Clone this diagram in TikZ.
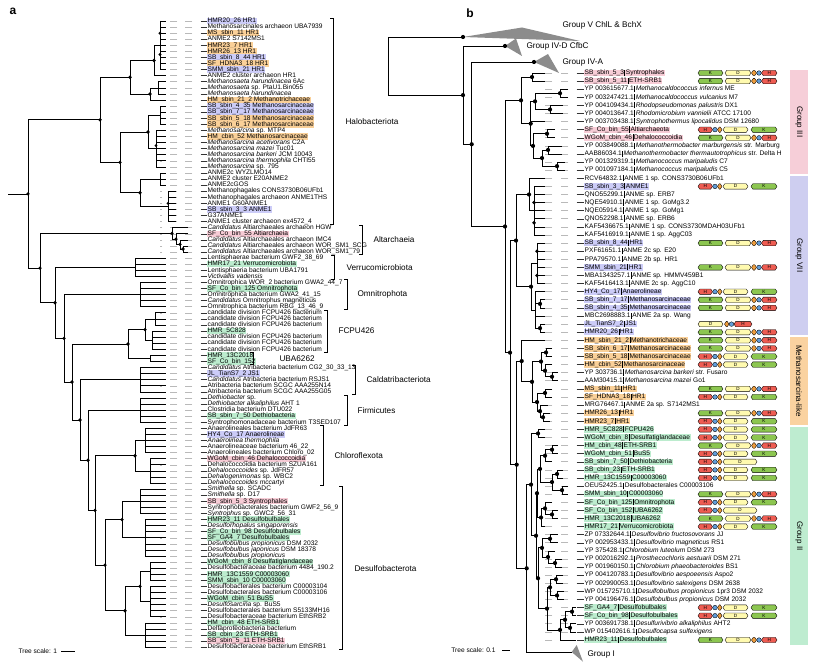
\documentclass[tikz,border=0pt]{standalone}
\usepackage{fontspec}
\setmainfont{Liberation Sans}
\definecolor{hb}{RGB}{204,204,248}
\definecolor{ho}{RGB}{250,208,152}
\definecolor{hp}{RGB}{247,204,214}
\definecolor{hg}{RGB}{188,236,206}
\definecolor{gK}{RGB}{140,198,80}
\definecolor{gD}{RGB}{255,250,175}
\definecolor{gO}{RGB}{238,156,60}
\definecolor{gB}{RGB}{98,158,218}
\definecolor{gH}{RGB}{238,92,82}
\definecolor{dashg}{RGB}{185,185,185}
\definecolor{trig}{RGB}{140,140,140}
\definecolor{barIII}{RGB}{246,206,216}
\definecolor{barVII}{RGB}{206,206,240}
\definecolor{barMS}{RGB}{250,210,160}
\definecolor{barII}{RGB}{190,236,208}
\newcommand\YA[1]{21+#1*6.08-6.08}
\newcommand\YB[1]{73+#1*8.1-8.1}
\newcommand\YAm[2]{21+#1*3.04+#2*3.04-6.08}
\newcommand\YBm[2]{73+#1*4.05+#2*4.05-8.1}
\newcommand\vsep{\kern0.5pt\rule[-1.3pt]{0.9pt}{6.4pt}\kern0.5pt}
\tikzset{
 tr/.style={line width=0.75pt, black},
 leadA/.style={dashg, line width=0.6pt, dash pattern=on 7pt off 8pt},
 leadB/.style={dashg, line width=0.7pt, dash pattern=on 7pt off 9pt},
 lab/.style={anchor=west, inner xsep=0.5pt, inner ysep=0pt, text height=4.9pt, text depth=1.4pt, font=\fontsize{6.6}{7}\selectfont},
 grp/.style={anchor=west, font=\fontsize{8.2}{9}\selectfont},
 glab/.style={font=\fontsize{4.6}{5}\selectfont, inner sep=0pt},
 gline/.style={draw=black, line width=0.35pt},
}
\newcommand\nA[5]{\draw[tr] (#3,\YA{#2}) -| (#1,\YA{#4}) -- (#5,\YA{#4}); \fill (#1,\YAm{#2}{#4}) circle (1.8pt);}
\newcommand\pA[4]{\draw[tr] (#1,\YA{#2}) -- (#1,\YA{#3}); \foreach \k in {#2,...,#3}{\draw[tr] (#1,\YA{\k}) -- (#4,\YA{\k});}}
\newcommand\nB[5]{\draw[tr] (#3,\YB{#2}) -| (#1,\YB{#4}) -- (#5,\YB{#4}); \fill (#1,\YBm{#2}{#4}) circle (2.1pt);}
\newcommand\pB[4]{\draw[tr] (#1,\YB{#2}) -- (#1,\YB{#3}); \foreach \k in {#2,...,#3}{\draw[tr] (#1,\YB{\k}) -- (#4,\YB{\k});}}
\newcommand\gene[5]{\path[gline, fill=#4] (#1,#3) -- ({#1+1.8},{#3-2.7}) -- ({#2-1.8},{#3-2.7}) -- (#2,#3) -- ({#2-1.8},{#3+2.7}) -- ({#1+1.8},{#3+2.7}) -- cycle;
 \node[glab] at ({(#1+#2)/2},#3) {#5};}
\newcommand\gbl[2]{\path[gline, fill=gB] (#1,#2) circle (2.3pt);}
\newcommand\gA[1]{\gene{698}{723}{#1}{gK}{K}\gene{725}{751}{#1}{gD}{D}\gene{751.5}{756.5}{#1}{gO}{}\gbl{759}{#1}\gene{761.5}{777}{#1}{gH}{H}}
\newcommand\gB[1]{\gene{698}{712.5}{#1}{gH}{H}\gbl{715}{#1}\gene{717.5}{722}{#1}{gO}{}\gene{723}{748}{#1}{gD}{D}\gene{751}{777}{#1}{gK}{K}}
\newcommand\gC[1]{\gene{698}{723}{#1}{gD}{D}\gene{724.5}{729}{#1}{gO}{}\gbl{731.5}{#1}\gene{734}{752}{#1}{gH}{H}}
\newcommand\gDD[1]{\gene{698}{712.5}{#1}{gH}{H}\gbl{715}{#1}\gene{717.5}{722}{#1}{gO}{}\gene{723}{757}{#1}{gD}{D}}
\catcode`\_=12
\begin{document}
\begin{tikzpicture}[x=1pt,y=-1pt]
\useasboundingbox (0,0) rectangle (818,666);
\fill[white] (0,0) rectangle (818,666);
\node[font=\bfseries\fontsize{12}{12}\selectfont] (pa) at (13,11) {a};
\node[font=\bfseries\fontsize{12}{12}\selectfont] (pb) at (470,13) {b};

% ================= PANEL A =================
\foreach \i in {1,...,104}{
 \draw[leadA] (192,\YA{\i}) -- (160,\YA{\i});
 \draw[line width=0.6pt, black!80] (200.5,\YA{\i}) -- (207,\YA{\i});
}
\foreach \i/\t/\c in {
1/HMR20_26 HR1/hb,
2/Methanosarcinales archaeon UBA7939/none,
3/MS_sbin_11 HR1/ho,
4/ANME2 S7142MS1/none,
5/HMR23_7 HR1/ho,
6/HMR26_13 HR1/ho,
7/SB_sbin_8_44 HR1/hb,
8/SF_HDNA3_18 HR1/ho,
9/SMM_sbin_21 HR1/hb,
10/ANME2 cluster archaeon HR1/none,
11/\textit{Methanosaeta harundinacea} 6Ac/none,
12/\textit{Methanosaeta} sp. PtaU1.Bin055/none,
13/\textit{Methanosaeta harundinacea}/none,
14/HM_sbin_21_2 Methanotrichaceae/ho,
15/SB_sbin_4_35 Methanosarcinaceae/hb,
16/SB_sbin_7_17 Methanosarcinaceae/hb,
17/SB_sbin_5_18 Methanosarcinaceae/ho,
18/SB_sbin_6_17 Methanosarcinaceae/ho,
19/\textit{Methanosarcina} sp. MTP4/none,
20/HM_cbin_52 Methanosarcinaceae/ho,
21/\textit{Methanosarcina acetivorans} C2A/none,
22/\textit{Methanosarcina mazei} Tuc01/none,
23/\textit{Methanosarcina barkeri} JCM 10043/none,
24/\textit{Methanosarcina thermophila} CHTI55/none,
25/\textit{Methanosarcina} sp. 795/none,
26/ANME2c WYZLMO14/none,
27/ANME2 cluster E20ANME2/none,
28/ANME2cGOS/none,
29/Methanophagales CONS3730B06UFb1/none,
30/Methanophagales archaeon ANME1THS/none,
31/ANME1 G60ANME1/none,
32/SB_sbin_3_3 ANME1/hb,
33/G37ANME1/none,
34/ANME1 cluster archaeon ex4572_4/none,
35/\textit{Candidatus} Altiarchaeales archaeon HGW/none,
36/SF_Co_bin_55 Altiarchaeia/hp,
37/\textit{Candidatus} Altiarchaeales archaeon IMC4/none,
38/\textit{Candidatus} Altiarchaeales archaeon WOR_SM1_SCG/none,
39/\textit{Candidatus} Altiarchaeales archaeon WOR_SM1_79/none,
40/Lentisphaerae bacterium GWF2_38_69/none,
41/HMR17_21 Verrucomicrobiota/hg,
42/Lentisphaeria bacterium UBA1791/none,
43/\textit{Victivallis vadensis}/none,
44/Omnitrophica WOR_2 bacterium GWA2_44_7/none,
45/SF_Co_bin_125 Omnitrophota/hg,
46/Omnitrophica bacterium GWA2_41_15/none,
47/\textit{Candidatus} Omnitrophus magneticus/none,
48/Omnitrophica bacterium RBG_13_46_9/none,
49/candidate division FCPU426 bacterium/none,
50/candidate division FCPU426 bacterium/none,
51/candidate division FCPU426 bacterium/none,
52/HMR_5C828/hg,
53/candidate division FCPU426 bacterium/none,
54/candidate division FCPU426 bacterium/none,
55/candidate division FCPU426 bacterium/none,
56/HMR_13C2018/hg,
57/SF_Co_bin_152/hg,
58/\textit{Candidatus} Atribacteria bacterium CG2_30_33_13/none,
59/JL_TianS7_2 JS1/hb,
60/\textit{Candidatus} Atribacteria bacterium RSJS1/none,
61/Atribacteria bacterium SCGC AAA255N14/none,
62/Atribacteria bacterium SCGC AAA255G05/none,
63/\textit{Dethiobacter} sp./none,
64/\textit{Dethiobacter alkaliphilus} AHT 1/none,
65/Clostridia bacterium DTU022/none,
66/SB_sbin_7_50 Dethiobacteria/hg,
67/Syntrophomonadaceae bacterium T3SED107/none,
68/Anaerolineales bacterium JdFR63/none,
69/HY4_Co_17 Anaerolineae/hb,
70/\textit{Anaerolinea thermophila}/none,
71/Anaerolineaceae bacterium 46_22/none,
72/Anaerolineales bacterium Chloro_02/none,
73/WGoM_cbin_46 Dehalococcoidia/hp,
74/Dehalococcoidia bacterium SZUA161/none,
75/\textit{Dehalococcoides} sp. JdFR57/none,
76/\textit{Dehalogenimonas} sp. WBC2/none,
77/\textit{Dehalococcoides mccartyi}/none,
78/\textit{Smithella} sp. SCADC/none,
79/\textit{Smithella} sp. D17/none,
80/SB_sbin_5_3 Syntrophales/hp,
81/Syntrophobacterales bacterium GWF2_56_9/none,
82/\textit{Syntrophus} sp. GWC2_56_31/none,
83/HMR23_11 Desulfobulbales/hg,
84/\textit{Desulforhopalus singaporensis}/none,
85/SF_Co_bin_98 Desulfobulbales/hg,
86/SF_GA4_7 Desulfobulbales/hg,
87/\textit{Desulfobulbus propionicus} DSM 2032/none,
88/\textit{Desulfobulbus japonicus} DSM 18378/none,
89/\textit{Desulfobulbus propionicus}/none,
90/WGoM_cbin_8 Desulfatiglandaceae/hg,
91/Desulfobacteraceae bacterium 4484_190.2/none,
92/HMR_13C1559 C00003060/hg,
93/SMM_sbin_10 C00003060/hg,
94/Desulfobacterales bacterium C00003104/none,
95/Desulfobacterales bacterium C00003106/none,
96/WGoM_cbin_51 BuS5/hg,
97/\textit{Desulfosarcina} sp. BuS5/none,
98/Desulfobacterales bacterium S5133MH16/none,
99/Desulfobacteraceae bacterium EthSRB2/none,
100/HM_cbin_48 ETH-SRB1/hg,
101/Deltaproteobacteria bacterium/none,
102/SB_cbin_23 ETH-SRB1/hg,
103/SB_sbin_5_11 ETH-SRB1/hp,
104/Desulfobacteraceae bacterium EthSRB1/none}{
 \node[lab, fill=\c] (a\i) at (207,\YA{\i}) {\t};
}
% tree a : Halobacteriota
\pA{160}{1}{9}{166}
\fill (160,\YA{3}) circle (1.6pt); \fill (160,\YA{6.5}) circle (1.6pt);
\nA{154}{5}{160}{10}{166}
\pA{158}{11}{13}{166}
\nA{150}{12}{158}{14}{166}
\nA{130}{7.5}{154}{13}{150}
\pA{160}{15}{18}{166}
\pA{156}{19}{25}{166}
\fill (156,\YA{21.5}) circle (1.6pt);
\nA{148}{16.5}{160}{22}{156}
\pA{160}{26}{28}{166}
\pA{168}{29}{34}{176}
\fill (168,\YA{31}) circle (1.6pt);
\nA{140}{27}{160}{31.5}{168}
\nA{120}{19.25}{148}{29.25}{140}
\nA{100}{10.25}{130}{24.25}{120}
% Altarchaeia
\nA{183}{38}{188}{39}{188}
\nA{180}{37}{188}{38.5}{183}
\nA{176}{36}{188}{37.75}{180}
\nA{172}{35}{188}{36.875}{176}
% bacteria groups
\pA{135}{40}{43}{166}
\pA{140}{44}{48}{166}
\pA{155}{49}{51}{166}
\pA{152}{52}{55}{166}
\nA{145}{50}{155}{53.5}{152}
\pA{150}{56}{57}{166}
\nA{128}{51.75}{145}{56.5}{150}
\pA{140}{58}{62}{166}
\pA{140}{63}{67}{166}
\pA{145}{68}{72}{166}
\pA{150}{73}{77}{166}
\nA{135}{70}{145}{75}{150}
\pA{140}{78}{82}{166}
\pA{145}{83}{89}{166}
\nA{122}{80}{140}{86}{145}
\pA{150}{90}{93}{166}
\pA{150}{94}{99}{166}
\nA{140}{91.5}{150}{96.5}{150}
\pA{145}{100}{104}{166}
\nA{125}{94}{140}{102}{145}
\nA{105}{83}{122}{98}{125}
% staircase
\nA{95}{72.5}{135}{90.5}{105}
\nA{88}{65}{140}{81.5}{95}
\nA{80}{60}{140}{73.25}{88}
\nA{72}{54.125}{128}{66.625}{80}
\nA{64}{46}{140}{60.375}{72}
\nA{55}{41.5}{135}{53.1875}{64}
\nA{40}{35.9375}{172}{47.34375}{55}
\nA{28}{17.25}{100}{41.640625}{40}
\draw[tr] (8,\YA{29.4453125}) -- (28,\YA{29.4453125});
% brackets a
\foreach \x/\p/\q/\n/\lx/\t in {
333/1/34/gHalo/342/Halobacteriota,
362/35/39/gAlt/370/Altarchaeia,
334/40/43/gVer/343/Verrucomicrobiota,
347/44/48/gOmn/354/Omnitrophota,
327/49/55/gFCP/335/FCPU426,
355/58/62/gCal/363/Caldatribacteriota,
347/63/67/gFir/354/Firmicutes,
323/68/77/gChl/331/Chloroflexota,
342/78/104/gDes/351/Desulfobacterota}{
 \draw[line width=0.7pt] ({\x-3},{\YA{\p}-2.6}) -- (\x,{\YA{\p}-2.6}) -- (\x,{\YA{\q}+2.6}) -- ({\x-3},{\YA{\q}+2.6});
 \node[grp] (\n) at (\lx,\YAm{\p}{\q}) {\t};
}
\draw[line width=0.7pt] (250,{\YA{56}-2.6}) -- (253,{\YA{56}-2.6}) -- (253,{\YA{57}+2.6}) -- (250,{\YA{57}+2.6});
\node[grp] (gUBA) at (276,\YAm{56}{57}) {UBA6262};
\node[anchor=west, font=\fontsize{6.6}{7}\selectfont] (tsa) at (15,651) {Tree scale: 1};
\draw[line width=0.7pt] (61,651) -- (75,651);

% ================= PANEL B =================
\foreach \i in {1,...,71}{
 \draw[leadB] (568,\YB{\i}) -- (545,\YB{\i});
 \draw[line width=0.6pt, black!80] (576.5,\YB{\i}) -- (583.5,\YB{\i});
}
\foreach \i/\t/\c in {
1/SB_sbin_5_3\vsep Syntrophales/hp,
2/SB_sbin_5_11\vsep ETH-SRB1/hp,
3/YP 003615677.1\vsep\textit{Methanocaldococcus infernus} ME/none,
4/YP 003247421.1\vsep\textit{Methanocaldococcus vulcanius} M7/none,
5/YP 004109434.1\vsep\textit{Rhodopseudomonas palustris} DX1/none,
6/YP 004013647.1\vsep\textit{Rhodomicrobium vannielii} ATCC 17100/none,
7/YP 003703438.1\vsep\textit{Syntrophothermus lipocalidus} DSM 12680/none,
8/SF_Co_bin_55\vsep Altiarchaeota/hp,
9/WGoM_cbin_46\vsep Dehalococcoidia/hp,
10/YP 003849088.1\vsep\textit{Methanothermobacter marburgensis} str. Marburg/none,
11/AAB86034.1\vsep\textit{Methanothermobacter thermautotrophicus} str. Delta H/none,
12/YP 001329319.1\vsep\textit{Methanococcus maripaludis} C7/none,
13/YP 001097184.1\vsep\textit{Methanococcus maripaludis} C5/none,
14/RCV64832.1\vsep ANME 1 sp. CONS3730B06UFb1/none,
15/SB_sbin_3_3\vsep ANME1/hb,
16/QNO55299.1\vsep ANME sp. ERB7/none,
17/NQE54910.1\vsep ANME 1 sp. GoMg3.2/none,
18/NQE05914.1\vsep ANME 1 sp. GoMg1/none,
19/QNO52298.1\vsep ANME sp. ERB6/none,
20/KAF5436675.1\vsep ANME 1 sp. CONS3730MDAH03UFb1/none,
21/KAF5416919.1\vsep ANME 1 sp. AggC03/none,
22/SB_sbin_8_44\vsep HR1/hb,
23/PXF61651.1\vsep ANME 2c sp. E20/none,
24/PPA79570.1\vsep ANME 2b sp. HR1/none,
25/SMM_sbin_21\vsep HR1/hb,
26/MBA1343257.1\vsep ANME sp. HMMV459B1/none,
27/KAF5416413.1\vsep ANME 2c sp. AggC10/none,
28/HY4_Co_17\vsep Anaerolineae/hb,
29/SB_sbin_7_17\vsep Methanosarcinaceae/hb,
30/SB_sbin_4_35\vsep Methanosarcinaceae/hb,
31/MBC2698883.1\vsep ANME 2a sp. Wang/none,
32/JL_TianS7_2\vsep JS1/hb,
33/HMR20_26\vsep HR1/hb,
34/HM_sbin_21_2\vsep Methanotrichaceae/ho,
35/SB_sbin_6_17\vsep Methanosarcinaceae/ho,
36/SB_sbin_5_18\vsep Methanosarcinaceae/ho,
37/HM_cbin_52\vsep Methanosarcinaceae/ho,
38/YP 303736.1\vsep\textit{Methanosarcina barkeri} str. Fusaro/none,
39/AAM30415.1\vsep\textit{Methanosarcina mazei} Go1/none,
40/MS_sbin_11\vsep HR1/ho,
41/SF_HDNA3_18\vsep HR1/ho,
42/MRG76467.1\vsep ANME 2a sp. S7142MS1/none,
43/HMR26_13\vsep HR1/ho,
44/HMR23_7\vsep HR1/ho,
45/HMR_5C828\vsep FCPU426/hg,
46/WGoM_cbin_8\vsep Desulfatiglandaceae/hg,
47/HM_cbin_48\vsep ETH-SRB1/hg,
48/WGoM_cbin_51\vsep BuS5/hg,
49/SB_sbin_7_50\vsep Dethiobacteria/hg,
50/SB_cbin_23\vsep ETH-SRB1/hg,
51/HMR_13C1559\vsep C00003060/hg,
52/OEU52425.1\vsep Desulfobacterales C00003106/none,
53/SMM_sbin_10\vsep C00003060/hg,
54/SF_Co_bin_125\vsep Omnitrophota/hg,
55/SF_Co_bin_152\vsep UBA6262/hg,
56/HMR_13C2018\vsep UBA6262/hg,
57/HMR17_21\vsep Verrucomicrobiota/hg,
58/ZP 07332644.1\vsep\textit{Desulfovibrio fructosovorans} JJ/none,
59/YP 002953433.1\vsep\textit{Desulfovibrio magneticus} RS1/none,
60/YP 375428.1\vsep\textit{Chlorobium luteolum} DSM 273/none,
61/YP 002016292.1\vsep\textit{Prosthecochloris aestuarii} DSM 271/none,
62/YP 001960150.1\vsep\textit{Chlorobium phaeobacteroides} BS1/none,
63/YP 004120783.1\vsep\textit{Desulfovibrio aespoeensis} Aspo2/none,
64/YP 002990053.1\vsep\textit{Desulfovibrio salexigens} DSM 2638/none,
65/WP 015725710.1\vsep\textit{Desulfobulbus propionicus} 1pr3 DSM 2032/none,
66/YP 004196476.1\vsep\textit{Desulfobulbus propionicus} DSM 2032/none,
67/SF_GA4_7\vsep Desulfobulbales/hg,
68/SF_Co_bin_98\vsep Desulfobulbales/hg,
69/YP 003691738.1\vsep\textit{Desulfurivibrio alkaliphilus} AHT2/none,
70/WP 015402616.1\vsep\textit{Desulfocapsa sulfexigens}/none,
71/HMR23_11\vsep Desulfobulbales/hg}{
 \node[lab, fill=\c] (b\i) at (584,\YB{\i}) {\t};
}
% genes
\foreach \i/\g in {1/gA,2/gA,8/gB,9/gA,15/gB,22/gA,25/gA,28/gB,29/gA,30/gA,32/gC,33/gA,34/gA,35/gA,36/gB,37/gB,40/gA,41/gB,43/gA,44/gB,45/gB,46/gB,47/gA,48/gB,49/gDD,50/gB,51/gB,53/gA,54/gB,55/gDD,56/gA,57/gB,67/gB,68/gB,71/gA}{
 \pgfmathsetmacro\yy{73+(\i-1)*8.1}
 \csname\g\endcsname{\yy}
}
% group bars
\foreach \a/\b/\c/\n/\t in {70/173.5/barIII/sIII/Group III, 175.5/335/barVII/sVII/Group VII, 337/425/barMS/sMS/Methanosarcina-like, 427/645/barII/sII/Group II}{
 \fill[\c] (790,\a) rectangle (808,\b);
 \node[rotate=-90, font=\fontsize{8}{9}\selectfont] (\n) at (799,{(\a+\b)/2}) {\t};
}
% collapsed groups
\fill[trig] (463,37) -- (522,27.5) -- (580,41) -- cycle;
\node[grp] (gV) at (559,25) {Group V ChlL \& BchX};
\fill[trig] (505,46) -- (516,38.5) -- (522,56) -- cycle;
\node[grp] (gIVD) at (523,46) {Group IV-D CfbC};
\fill[trig] (534,62) -- (548,54) -- (559,73) -- cycle;
\node[grp] (gIVA) at (559,62) {Group IV-A};
\fill[trig] (571.7,652) -- (576.7,645) -- (583,661.7) -- cycle;
\node[grp] (gI) at (584,654) {Group I};
% tree b : group III
\nB{532}{1}{545}{2}{545}
\nB{560}{3}{568}{4}{568}
\nB{550}{5}{563}{6}{563}
\nB{535}{3.5}{560}{5.5}{550}
\nB{547}{8}{555}{9}{555}
\nB{548}{10}{562}{11}{562}
\nB{557}{12}{565}{13}{565}
\nB{542}{10.5}{548}{12.5}{557}
\nB{533}{8.5}{547}{11.5}{542}
\draw[tr] (530.7,\YB{4.5}) -- (530.7,\YB{10});
\draw[tr] (530.7,\YB{4.5}) -- (535,\YB{4.5}); \draw[tr] (530.7,\YB{7}) -- (545,\YB{7}); \draw[tr] (530.7,\YB{10}) -- (533,\YB{10});
\fill (530.7,\YBm{4.5}{10}) circle (2.1pt);
\nB{521}{1.5}{532}{7.25}{530.7}
% group VII
\pB{534}{15}{21}{545}
\fill (534,\YB{17}) circle (1.9pt); \fill (534,\YB{19.5}) circle (1.9pt);
\nB{529}{14}{545}{18}{534}
\pB{537}{22}{27}{545}
\fill (537,\YB{23}) circle (1.9pt); \fill (537,\YB{26}) circle (1.9pt);
\nB{540}{29}{545}{30}{545}
\nB{540}{32}{545}{33}{545}
\draw[tr] (535,\YB{28}) -- (535,\YB{32.5});
\draw[tr] (535,\YB{28}) -- (545,\YB{28}); \draw[tr] (535,\YB{29.5}) -- (540,\YB{29.5}); \draw[tr] (535,\YB{31}) -- (545,\YB{31}); \draw[tr] (535,\YB{32.5}) -- (540,\YB{32.5});
\nB{531}{24.5}{537}{30.25}{535}
\nB{516}{16}{529}{27.375}{531}
% Methanosarcina-like
\nB{546}{35}{552}{36}{552}
\nB{552}{38}{558}{39}{558}
\nB{545}{37}{552}{38.5}{552}
\nB{541}{35.5}{546}{37.75}{545}
\nB{545}{40}{552}{41}{552}
\nB{543}{43}{550}{44}{550}
\nB{540}{42}{548}{43.5}{543}
\nB{537}{40.5}{545}{42.75}{540}
\nB{532}{36.625}{541}{41.625}{537}
\nB{521.7}{34}{545}{39.125}{532}
% group II
\nB{538}{45}{545}{46}{545}
\nB{552}{47}{558}{48}{558}
\nB{545}{47.5}{552}{49}{552}
\nB{557}{50}{563}{51}{563}
\nB{562}{52}{568}{53}{568}
\nB{552}{50.5}{557}{52.5}{562}
\nB{540}{48.25}{545}{51.5}{552}
\nB{552}{55}{558}{56}{558}
\nB{545}{54}{552}{55.5}{552}
\nB{541}{54.75}{545}{57}{545}
\nB{537}{49.875}{540}{55.875}{541}
\nB{550}{58}{558}{59}{558}
\nB{555}{61}{562}{62}{562}
\nB{548}{60}{555}{61.5}{555}
\nB{542}{58.5}{550}{60.75}{548}
\nB{556}{63}{563}{64}{563}
\nB{557}{65}{564}{66}{564}
\nB{550}{63.5}{556}{65.5}{557}
\nB{572}{67}{576}{68}{576}
\nB{570}{69}{576}{70}{576}
\nB{565}{67.5}{572}{69.5}{570}
\nB{560}{68.5}{565}{71}{576}
\nB{547}{64.5}{550}{69.75}{560}
\nB{538}{59.625}{542}{67.125}{547}
\nB{536}{52.875}{537}{63.375}{538}
\nB{531}{45.5}{538}{58.125}{536}
% backbone b
\draw[tr] (531,484.58) -| (526.7,652) -- (571.7,652);
\draw[tr] (521.7,361.06) -| (516.7,568.29) -- (526.7,568.29);
\draw[tr] (516,240.57) -| (510,464.68) -- (516.7,464.68);
\draw[tr] (521,100.34) -| (505,352.63) -- (510,352.63);
\draw[tr] (534,62) -| (471.7,226.48) -- (505,226.48);
\draw[tr] (505,46) -| (463,144.24) -- (471.7,144.24);
\draw[tr] (463,37) -| (388,95.12) -- (463,95.12);
\foreach \px/\py in {526.7/568.29, 516.7/464.68, 510/352.63, 505/226.48, 471.7/144.24, 463/95.12, 463/37, 505/46, 534/62}{
 \fill (\px,\py) circle (2.1pt);
}
\node[anchor=east, font=\fontsize{6.6}{7}\selectfont] (tsb) at (499,650) {Tree scale: 0.1};
\draw[line width=0.7pt] (502,650) -- (510,650);
\end{tikzpicture}
\end{document}
